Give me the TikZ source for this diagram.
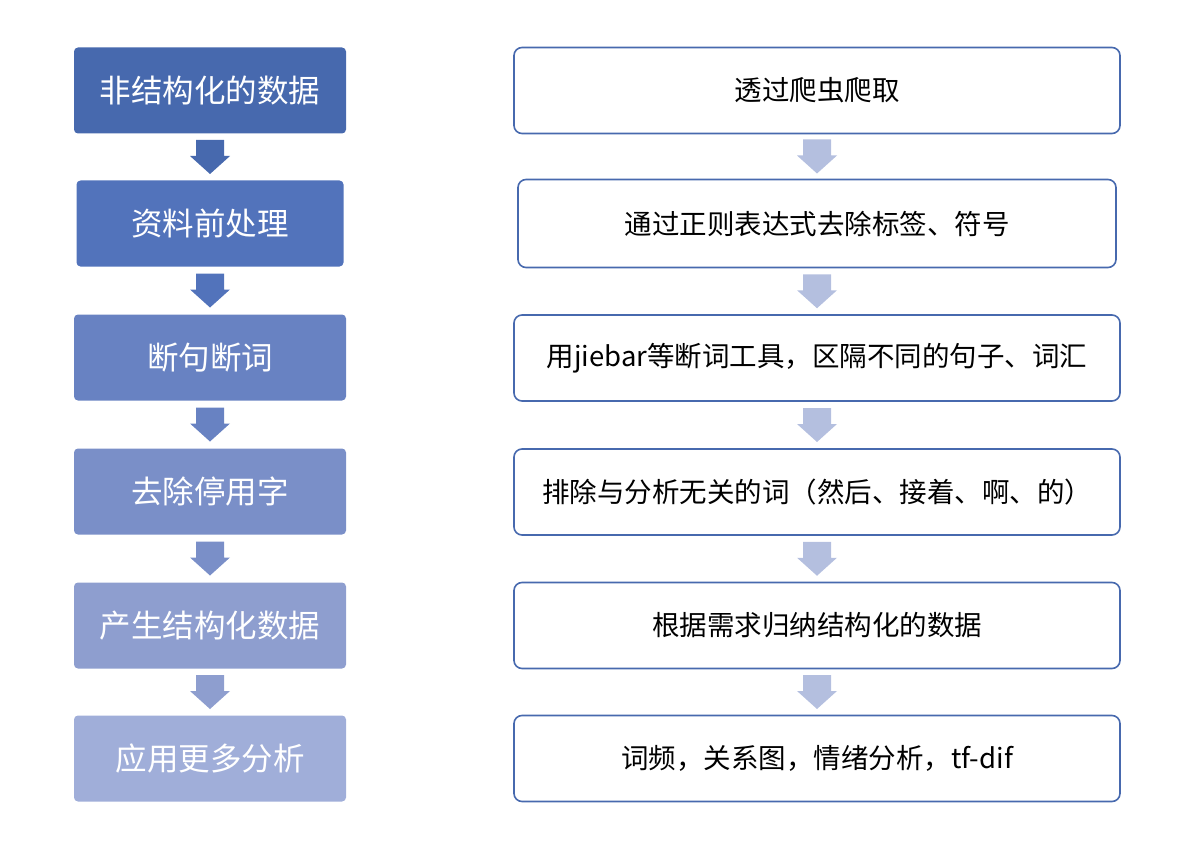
\documentclass[tikz,border=0pt]{standalone}
\usepackage{fontspec}
\setmainfont{Noto Sans CJK SC}
\usetikzlibrary{calc}
\definecolor{c1}{HTML}{4769AE}
\definecolor{c2}{HTML}{5273BB}
\definecolor{c3}{HTML}{6882C2}
\definecolor{c4}{HTML}{7A8FC8}
\definecolor{c5}{HTML}{8E9ECF}
\definecolor{c6}{HTML}{A0AED9}
\definecolor{ra}{HTML}{B4BFDF}
\tikzset{
 lbox/.style={rounded corners=4pt, minimum width=272pt, minimum height=86pt, text=white, font=\fontsize{31.5}{35}\selectfont, inner sep=0pt},
 rbox/.style={draw=c1, line width=1.6pt, fill=white, rounded corners=8pt, minimum width=606pt, minimum height=86pt, font=\fontsize{27.5}{31}\selectfont, inner sep=0pt},
 pics/barr/.style={code={\fill (-14,-17) -- (14,-17) -- (14,-1) -- (20,-1) -- (0,17) -- (-20,-1) -- (-14,-1) -- cycle;}},
}
\begin{document}
\begin{tikzpicture}[x=1pt,y=-1pt]
\useasboundingbox (0,0) rectangle (1200,848);
\node[lbox, fill=c1] (L1) at (210,90.5) {非结构化的数据};
\node[lbox, fill=c2, minimum width=267pt] (L2) at (210,223.5) {资料前处理};
\node[lbox, fill=c3] (L3) at (210,357.5) {断句断词};
\node[lbox, fill=c4] (L4) at (210,491.5) {去除停用字};
\node[lbox, fill=c5] (L5) at (210,625.5) {产生结构化数据};
\node[lbox, fill=c6] (L6) at (210,758.5) {应用更多分析};
\node[rbox] (R1) at (817,90.5) {透过爬虫爬取};
\node[rbox, minimum width=598pt, minimum height=88pt] (R2) at (817,223.5) {通过正则表达式去除标签、符号};
\node[rbox] (R3) at (817,358) {用jiebar等断词工具，区隔不同的句子、词汇};
\node[rbox] (R4) at (817,492) {排除与分析无关的词（然后、接着、啊、的）};
\node[rbox] (R5) at (817,625.5) {根据需求归纳结构化的数据};
\node[rbox] (R6) at (817,758.5) {词频，关系图，情绪分析，tf-dif};
\pic[c1] at ($(L1.south)!0.5!(L2.north)$) {barr};
\pic[c2] at ($(L2.south)!0.5!(L3.north)$) {barr};
\pic[c3] at ($(L3.south)!0.5!(L4.north)$) {barr};
\pic[c4] at ($(L4.south)!0.5!(L5.north)$) {barr};
\pic[c5] at ($(L5.south)!0.5!(L6.north)$) {barr};
\pic[ra] at ($(R1.south)!0.5!(R2.north)$) {barr};
\pic[ra] at ($(R2.south)!0.5!(R3.north)$) {barr};
\pic[ra] at ($(R3.south)!0.5!(R4.north)$) {barr};
\pic[ra] at ($(R4.south)!0.5!(R5.north)$) {barr};
\pic[ra] at ($(R5.south)!0.5!(R6.north)$) {barr};
\end{tikzpicture}
\end{document}
